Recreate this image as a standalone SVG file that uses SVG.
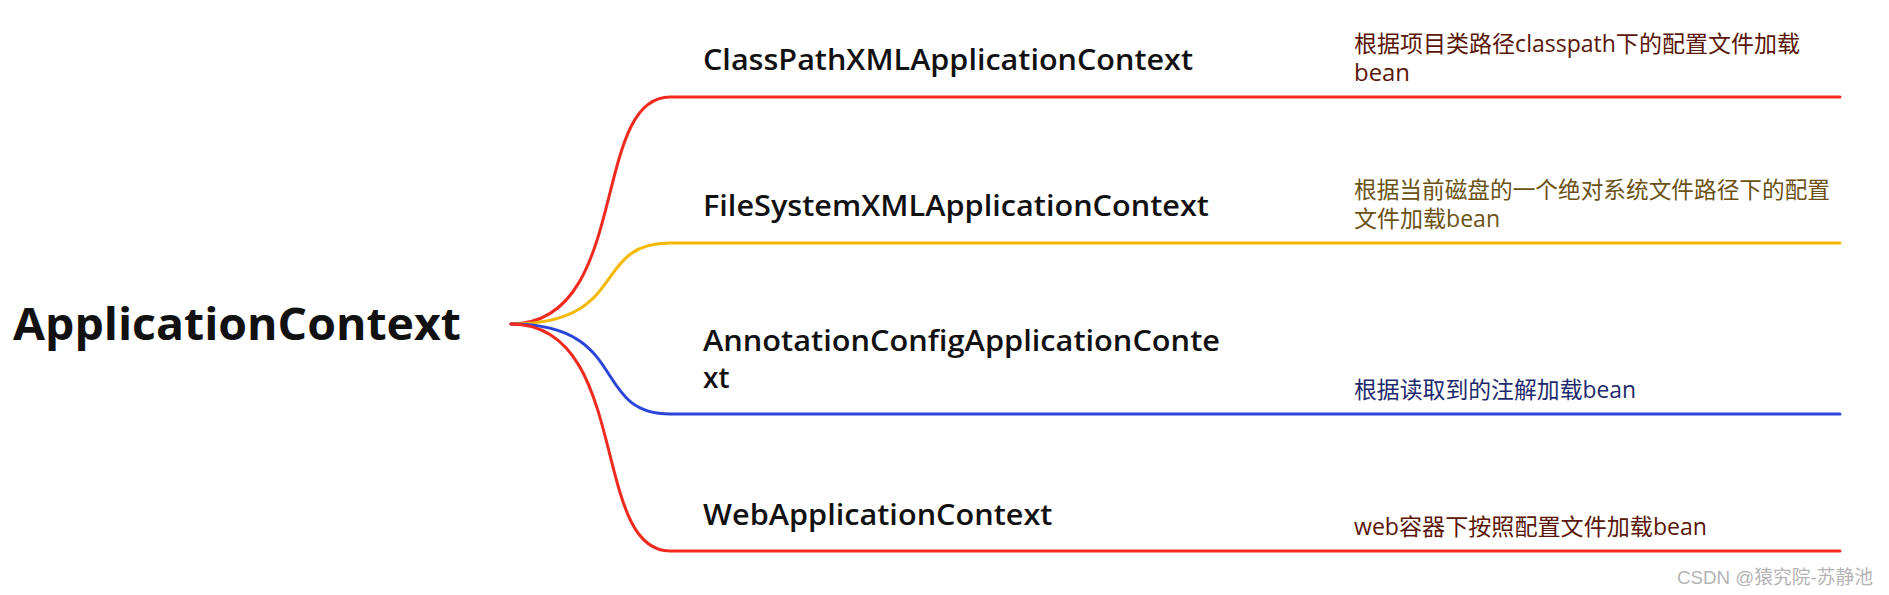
<svg xmlns="http://www.w3.org/2000/svg" width="1889" height="595" viewBox="0 0 1889 595">
<style>
.root{font-family:"Open Sans","Liberation Sans",sans-serif;font-weight:700;font-size:44px;fill:#111}
.lbl{font-family:"Open Sans","Liberation Sans",sans-serif;font-weight:600;font-size:29px;fill:#111}
.desc{font-family:"Open Sans","Noto Sans CJK SC","Liberation Sans",sans-serif;font-weight:400;font-size:23px}
.wm{font-family:"Liberation Sans","Noto Sans CJK SC",sans-serif;font-size:19px;fill:#b4b4b4}
.c{fill:none;stroke-width:3;stroke-linecap:round}
.red{stroke:#f02a1f}.yel{stroke:#f5b800}.blu{stroke:#2b45d8}
</style>
<rect width="1889" height="595" fill="#ffffff"/>
<g id="connectors">
<path class="c red" d="M511,324 C631,324 590,97 670,97 L1840,97"/>
<path class="c yel" d="M511,324 C631,324 590,243 670,243 L1840,243"/>
<path class="c blu" d="M511,324 C631,324 590,414 670,414 L1840,414"/>
<path class="c red" d="M511,324 C631,324 590,551 670,551 L1840,551"/>
</g>
<g id="node-root">
<text class="root" x="13" y="340" textLength="448" lengthAdjust="spacingAndGlyphs">ApplicationContext</text>
</g>
<g id="node-classpath">
<text class="lbl" x="703" y="70" textLength="490" lengthAdjust="spacingAndGlyphs">ClassPathXMLApplicationContext</text>
</g>
<g id="node-filesystem">
<text class="lbl" x="703" y="216" textLength="506" lengthAdjust="spacingAndGlyphs">FileSystemXMLApplicationContext</text>
</g>
<g id="node-annotation">
<text class="lbl" x="703" y="351" textLength="517" lengthAdjust="spacingAndGlyphs">AnnotationConfigApplicationConte</text>
<text class="lbl" x="703" y="387.5" textLength="26.5" lengthAdjust="spacingAndGlyphs">xt</text>
</g>
<g id="node-web">
<text class="lbl" x="703" y="524.5" textLength="349.5" lengthAdjust="spacingAndGlyphs">WebApplicationContext</text>
</g>
<g id="desc-classpath">
<text class="desc" fill="#5a1606" x="1354" y="52" textLength="446" lengthAdjust="spacingAndGlyphs">根据项目类路径classpath下的配置文件加载</text>
<text class="desc" fill="#5a1606" x="1354" y="80.5" textLength="56" lengthAdjust="spacingAndGlyphs">bean</text>
</g>
<g id="desc-filesystem">
<text class="desc" fill="#6b5214" x="1354" y="198" textLength="476" lengthAdjust="spacingAndGlyphs">根据当前磁盘的一个绝对系统文件路径下的配置</text>
<text class="desc" fill="#6b5214" x="1354" y="226.5" textLength="146" lengthAdjust="spacingAndGlyphs">文件加载bean</text>
</g>
<g id="desc-annotation">
<text class="desc" fill="#1e2a6e" x="1354" y="397.5" textLength="282" lengthAdjust="spacingAndGlyphs">根据读取到的注解加载bean</text>
</g>
<g id="desc-web">
<text class="desc" fill="#5a1606" x="1354" y="534.5" textLength="353" lengthAdjust="spacingAndGlyphs">web容器下按照配置文件加载bean</text>
</g>
<text class="wm" x="1677" y="584" textLength="196" lengthAdjust="spacingAndGlyphs">CSDN @猿究院-苏静池</text>
</svg>
